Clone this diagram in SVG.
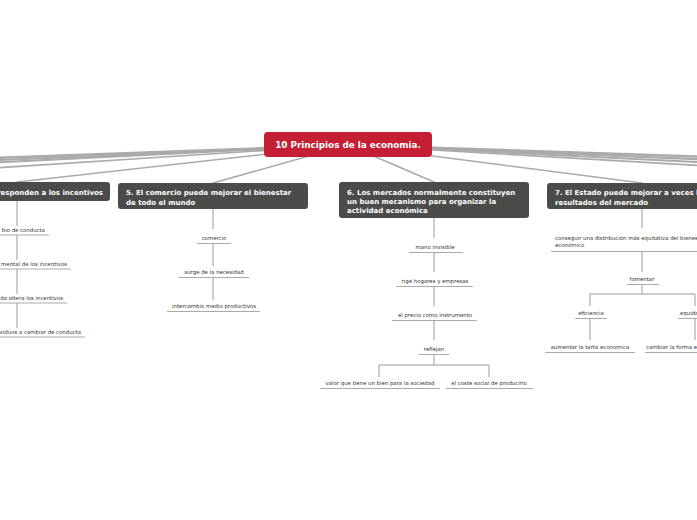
<svg xmlns="http://www.w3.org/2000/svg" width="697" height="520" viewBox="0 0 697 520">
<style>
.main{fill:#c41f34}
.box{fill:#4b4b49}
.mt{font-family:"DejaVu Sans",Verdana,sans-serif;font-weight:bold;font-size:8.8px;fill:#fff}
.nt{font-family:"DejaVu Sans",Verdana,sans-serif;font-weight:bold;font-size:7px;fill:#fff}
.st{font-family:"DejaVu Sans",Verdana,sans-serif;font-size:5.4px;fill:#333}
.ul{stroke:#aaa;stroke-width:1;fill:none}
.v{stroke:#999;stroke-width:1;fill:none}
.c{stroke:#aaa;fill:none;stroke-linecap:round}
</style>
<rect width="697" height="520" fill="#fff"/>
<g id="connectors">
<line class="c" x1="348" y1="145" x2="-2" y2="157.8" stroke-width="2.4"/>
<line class="c" x1="348" y1="145" x2="-2" y2="160.1" stroke-width="2.2"/>
<line class="c" x1="348" y1="145" x2="-2" y2="162.4" stroke-width="2"/>
<line class="c" x1="348" y1="145" x2="-2" y2="167.8" stroke-width="1.6"/>
<line class="c" x1="348" y1="145" x2="699" y2="156.5" stroke-width="2.4"/>
<line class="c" x1="348" y1="145" x2="699" y2="159.3" stroke-width="2.2"/>
<line class="c" x1="348" y1="145" x2="699" y2="162" stroke-width="2"/>
<line class="c" x1="348" y1="145" x2="699" y2="165.5" stroke-width="1.6"/>
<line class="c" x1="348" y1="145" x2="17" y2="182" stroke-width="1.5"/>
<line class="c" x1="348" y1="145" x2="213" y2="183" stroke-width="1.5"/>
<line class="c" x1="348" y1="145" x2="434" y2="182" stroke-width="1.5"/>
<line class="c" x1="348" y1="145" x2="642" y2="183" stroke-width="1.5"/>
<path class="v" d="M17 201V226M17 235V260M17 269V294M17 303V328"/>
<path class="v" d="M213 209V229M213 244V266M213 278V300"/>
<path class="v" d="M434 218V238M434 253V272M434 287V306M434 321V340M434 355V365M379 365H489M379 365V377M489 365V377"/>
<path class="v" d="M642 209V228M642 252V272M642 284V294M590 294H695M590 294V306M695 294V306M590 319V340M695 319V340"/>
</g>
<g id="central">
<rect class="main" x="264" y="132" width="168" height="25" rx="4"/>
<text class="mt" x="348" y="148" text-anchor="middle">10 Principios de la economia.</text>
</g>
<g id="n4">
<rect class="box" x="-10" y="182" width="120" height="19" rx="3"/>
<text class="nt" x="103" y="194.5" text-anchor="end">responden a los incentivos</text>
</g>
<g id="n4a"><text class="st" x="45" y="232" text-anchor="end">bio de conducta</text><line class="ul" x1="0" y1="235" x2="49" y2="235"/></g>
<g id="n4b"><text class="st" x="67" y="266" text-anchor="end">mental de los incentivos</text><line class="ul" x1="0" y1="269" x2="71" y2="269"/></g>
<g id="n4c"><text class="st" x="63" y="300" text-anchor="end">da altera los incentivos</text><line class="ul" x1="0" y1="303" x2="67" y2="303"/></g>
<g id="n4d"><text class="st" x="81" y="334" text-anchor="end">viduos a cambiar de conducta</text><line class="ul" x1="0" y1="337" x2="85" y2="337"/></g>
<g id="n5">
<rect class="box" x="118" y="183" width="190" height="26" rx="3"/>
<text class="nt" x="126" y="195">5. El comercio puede mejorar el bienestar</text>
<text class="nt" x="126" y="204.5">de todo el mundo</text>
</g>
<g id="n5a"><text class="st" x="214" y="240" text-anchor="middle">comercio</text><line class="ul" x1="197" y1="243.5" x2="231" y2="243.5"/></g>
<g id="n5b"><text class="st" x="214" y="274" text-anchor="middle">surge de la necesidad</text><line class="ul" x1="178" y1="277.5" x2="249" y2="277.5"/></g>
<g id="n5c"><text class="st" x="214" y="308" text-anchor="middle">intercambio medio productivos</text><line class="ul" x1="167" y1="311.5" x2="260" y2="311.5"/></g>
<g id="n6">
<rect class="box" x="339" y="182" width="190" height="36" rx="3"/>
<text class="nt" x="347" y="195">6. Los mercados normalmente constituyen</text>
<text class="nt" x="347" y="204">un buen mecanismo para organizar la</text>
<text class="nt" x="347" y="213">actividad económica</text>
</g>
<g id="n6a"><text class="st" x="435" y="249" text-anchor="middle">mano invisible</text><line class="ul" x1="409" y1="252.5" x2="463" y2="252.5"/></g>
<g id="n6b"><text class="st" x="435" y="283" text-anchor="middle">rige hogares y empresas</text><line class="ul" x1="396" y1="286.5" x2="473" y2="286.5"/></g>
<g id="n6c"><text class="st" x="435" y="317" text-anchor="middle">el precio como instrumento</text><line class="ul" x1="392" y1="320.5" x2="477" y2="320.5"/></g>
<g id="n6d"><text class="st" x="434" y="351" text-anchor="middle">reflejan</text><line class="ul" x1="419" y1="354.5" x2="449" y2="354.5"/></g>
<g id="n6e"><text class="st" x="380" y="385" text-anchor="middle">valor que tiene un bien para la sociedad</text><line class="ul" x1="320" y1="388.5" x2="440" y2="388.5"/></g>
<g id="n6f"><text class="st" x="489" y="385" text-anchor="middle">el coste social de producirlo</text><line class="ul" x1="446" y1="388.5" x2="533" y2="388.5"/></g>
<g id="n7">
<rect class="box" x="547" y="183" width="170" height="26" rx="3"/>
<text class="nt" x="555" y="195">7. El Estado puede mejorar a veces los</text>
<text class="nt" x="555" y="204.5">resultados del mercado</text>
</g>
<g id="n7a"><text class="st" x="555" y="240">conseguir una distribución más equitativa del bienestar</text><text class="st" x="555" y="247">económico</text><line class="ul" x1="551" y1="251.5" x2="697" y2="251.5"/></g>
<g id="n7b"><text class="st" x="642" y="281" text-anchor="middle">fomentar</text><line class="ul" x1="627" y1="284.5" x2="659" y2="284.5"/></g>
<g id="n7c"><text class="st" x="591" y="315" text-anchor="middle">eficiencia</text><line class="ul" x1="575" y1="318.5" x2="607" y2="318.5"/></g>
<g id="n7d"><text class="st" x="680" y="315">equidad</text><line class="ul" x1="678" y1="318.5" x2="697" y2="318.5"/></g>
<g id="n7e"><text class="st" x="590" y="349" text-anchor="middle">aumentar la tarta economica</text><line class="ul" x1="545" y1="352.5" x2="635" y2="352.5"/></g>
<g id="n7f"><text class="st" x="646" y="349">cambiar la forma en</text><line class="ul" x1="645" y1="352.5" x2="697" y2="352.5"/></g>
</svg>
